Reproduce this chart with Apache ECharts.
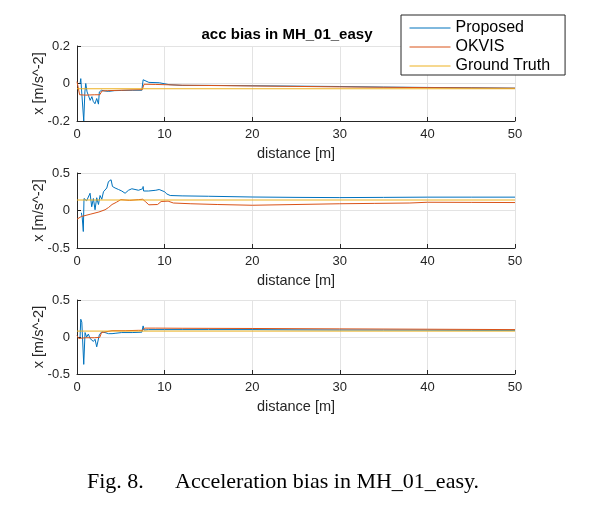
<!DOCTYPE html>
<html>
<head>
<meta charset="utf-8">
<script src="https://cdn.jsdelivr.net/npm/echarts@6/dist/echarts.min.js"></script>
<style>
html,body{margin:0;padding:0;background:#fff;}
#c{width:595px;height:509px;}
</style>
</head>
<body>
<div id="c"></div>
<script>
// ---- data ----
var xTicks = [0, 10, 20, 30, 40, 50];
var seriesNames = ['Proposed', 'OKVIS', 'Ground Truth'];
var yLabel = 'x [m/s^-2]';

// subplot 1
var p1PropDist = [0.35, 0.43, 0.55, 0.77, 0.9, 1.0, 1.15, 1.3, 1.5, 1.7, 1.85, 2.05, 2.25, 2.45, 2.55, 2.8, 3.2, 3.6, 4.3, 5.1, 6.3, 7.4, 7.55, 7.7, 8.2, 9.4, 10.5, 12, 15, 20, 25, 30, 35, 40, 45, 50];
var p1PropVal  = [0.0, 0.026, 0.02, -0.2, -0.045, 0.0, -0.045, -0.063, -0.09, -0.07, -0.095, -0.108, -0.08, -0.11, -0.045, -0.036, -0.04, -0.042, -0.038, -0.037, -0.036, -0.036, 0.02, 0.01, 0.006, 0.004, -0.006, -0.01, -0.01, -0.012, -0.014, -0.016, -0.019, -0.021, -0.023, -0.025];
var p1OkvisDist = [0, 0.15, 0.3, 1.0, 2.0, 2.6, 2.85, 3.5, 5, 6.5, 7.45, 7.65, 9, 12, 20, 30, 40, 50];
var p1OkvisVal  = [0.01, 0.0, -0.06, -0.062, -0.06, -0.06, -0.04, -0.038, -0.036, -0.034, -0.033, -0.004, -0.005, -0.009, -0.013, -0.018, -0.022, -0.025];
var p1TruthDist = [0, 50];
var p1TruthVal  = [-0.028, -0.028];

// subplot 2
var p2PropDist = [0.5, 0.6, 0.72, 0.8, 0.92, 1.1, 1.3, 1.49, 1.68, 1.87, 2.06, 2.25, 2.45, 2.63, 2.83, 3.02, 3.2, 3.4, 3.59, 3.89, 4.05, 4.35, 4.74, 5.11, 5.49, 5.88, 6.26, 7.02, 7.5, 7.55, 7.6, 8.17, 9.0, 9.38, 10.0, 10.26, 10.64, 12, 15, 20, 25, 30, 35, 40, 45, 50];
var p2PropVal  = [-0.03, -0.1, -0.28, 0.16, 0.16, 0.13, 0.13, 0.23, 0.05, 0.16, 0.01, 0.17, 0.08, 0.2, 0.15, 0.25, 0.275, 0.3, 0.385, 0.41, 0.32, 0.3, 0.28, 0.26, 0.23, 0.27, 0.29, 0.27, 0.29, 0.32, 0.26, 0.26, 0.27, 0.28, 0.25, 0.22, 0.2, 0.195, 0.19, 0.18, 0.175, 0.172, 0.175, 0.178, 0.178, 0.178];
var p2OkvisDist = [0, 0.5, 1.5, 2.5, 3.2, 3.6, 4.0, 4.5, 5.0, 6.0, 7.0, 7.5, 7.8, 8.2, 9.2, 9.6, 10.4, 11, 13, 16, 20, 25, 30, 34, 38, 40, 45, 50];
var p2OkvisVal  = [-0.115, -0.08, -0.05, -0.02, 0.01, 0.04, 0.08, 0.11, 0.145, 0.135, 0.145, 0.15, 0.12, 0.076, 0.08, 0.12, 0.125, 0.1, 0.09, 0.08, 0.07, 0.08, 0.09, 0.095, 0.1, 0.11, 0.108, 0.106];
var p2TruthDist = [0, 50];
var p2TruthVal  = [0.14, 0.14];

// subplot 3
var p3PropDist = [0.35, 0.43, 0.55, 0.77, 0.92, 1.1, 1.3, 1.49, 1.68, 1.87, 2.06, 2.25, 2.45, 2.55, 2.83, 3.2, 3.59, 4.0, 4.35, 5.1, 6.3, 7.4, 7.55, 7.65, 8.17, 10, 12, 15, 20, 25, 30, 35, 40, 45, 50];
var p3PropVal  = [0.0, 0.24, 0.2, -0.37, 0.06, 0.0, 0.04, -0.02, -0.01, -0.06, -0.03, -0.133, -0.11, 0.03, 0.07, 0.06, 0.045, 0.045, 0.05, 0.06, 0.06, 0.065, 0.15, 0.095, 0.1, 0.1, 0.1, 0.1, 0.1, 0.097, 0.095, 0.094, 0.093, 0.091, 0.09];
var p3OkvisDist = [0, 0.2, 0.4, 1.0, 2.0, 2.6, 2.8, 3.0, 4.0, 5.5, 7.0, 7.5, 7.7, 9, 12, 20, 30, 40, 50];
var p3OkvisVal  = [0.02, -0.02, -0.01, -0.01, -0.01, -0.005, 0.06, 0.08, 0.085, 0.085, 0.09, 0.09, 0.12, 0.12, 0.118, 0.115, 0.11, 0.105, 0.1];
var p3TruthDist = [0, 50];
var p3TruthVal  = [0.08, 0.08];

var yRanges = [[-0.2, 0.2, 0.2], [-0.5, 0.5, 0.5], [-0.5, 0.5, 0.5]];

// ---- chart ----
var colors = ['#0072BD', '#D95319', '#EDB120'];
var FONT = '"Liberation Sans", Arial, Helvetica, sans-serif';
var AX = '#262626';

function zip(d, v) { return d.map(function (x, i) { return [x, v[i]]; }); }

var subplots = [
  [zip(p1PropDist, p1PropVal), zip(p1OkvisDist, p1OkvisVal), zip(p1TruthDist, p1TruthVal)],
  [zip(p2PropDist, p2PropVal), zip(p2OkvisDist, p2OkvisVal), zip(p2TruthDist, p2TruthVal)],
  [zip(p3PropDist, p3PropVal), zip(p3OkvisDist, p3OkvisVal), zip(p3TruthDist, p3TruthVal)]
];

var grids = [
  {left: 77, top: 46, width: 438, height: 75},
  {left: 77, top: 173, width: 438, height: 75},
  {left: 77, top: 300, width: 438, height: 74}
];

var xAxes = [], yAxes = [], series = [];
for (var k = 0; k < 3; k++) {
  xAxes.push({
    type: 'value', gridIndex: k, min: xTicks[0], max: xTicks[xTicks.length - 1], interval: xTicks[1] - xTicks[0],
    name: 'distance [m]', nameLocation: 'middle', nameGap: 25, nameMoveOverlap: false,
    nameTextStyle: {fontFamily: FONT, fontSize: 14.5, color: AX},
    axisLine: {show: true, onZero: false, lineStyle: {color: AX, width: 1}},
    axisTick: {show: true, inside: true, length: 4, lineStyle: {color: AX}},
    axisLabel: {fontFamily: FONT, fontSize: 13, color: AX, margin: 7},
    splitLine: {show: true, lineStyle: {color: '#e3e3e3', width: 1}}
  });
  yAxes.push({
    type: 'value', gridIndex: k, min: yRanges[k][0], max: yRanges[k][1], interval: yRanges[k][2],
    name: yLabel, nameLocation: 'middle', nameGap: 31, nameRotate: 90, nameMoveOverlap: false,
    nameTextStyle: {fontFamily: FONT, fontSize: 14.5, color: AX},
    axisLine: {show: true, onZero: false, lineStyle: {color: AX, width: 1}},
    axisTick: {show: true, inside: true, length: 4, lineStyle: {color: AX}},
    axisLabel: {fontFamily: FONT, fontSize: 13, color: AX, margin: 7},
    splitLine: {show: true, lineStyle: {color: '#e3e3e3', width: 1}}
  });
  for (var s = 0; s < 3; s++) {
    series.push({
      name: seriesNames[s], type: 'line', xAxisIndex: k, yAxisIndex: k,
      data: subplots[k][s], symbol: 'none', showSymbol: false,
      lineStyle: {color: colors[s], width: 1}, itemStyle: {color: colors[s]},
      z: 2 + s, silent: true
    });
  }
}

var chart = echarts.init(document.getElementById('c'), null, {renderer: 'canvas'});
chart.setOption({
  animation: false,
  backgroundColor: '#fff',
  grid: grids,
  xAxis: xAxes,
  yAxis: yAxes,
  series: series,
  title: {
    text: 'acc bias in MH_01_easy', left: 282, top: 22, textAlign: 'center',
    textStyle: {fontFamily: FONT, fontSize: 15, fontWeight: 'bold', color: '#000'}
  },
  legend: {
    data: seriesNames, orient: 'vertical', left: 401, top: 15,
    padding: [5, 15, 1, 8], itemGap: 3, itemWidth: 41, itemHeight: 16,
    backgroundColor: '#fff', borderColor: AX, borderWidth: 1, borderRadius: 0,
    itemStyle: {opacity: 0},
    lineStyle: {width: 1},
    textStyle: {fontFamily: FONT, fontSize: 16, color: '#000'},
    selectedMode: false
  },
  graphic: [
    {type: 'text', left: 87, top: 471, style: {text: 'Fig. 8.', font: '22px "Liberation Serif", "Times New Roman", serif', fill: '#000'}},
    {type: 'text', left: 175, top: 471, style: {text: 'Acceleration bias in MH_01_easy.', font: '22px "Liberation Serif", "Times New Roman", serif', fill: '#000'}}
  ]
});
</script>
</body>
</html>
